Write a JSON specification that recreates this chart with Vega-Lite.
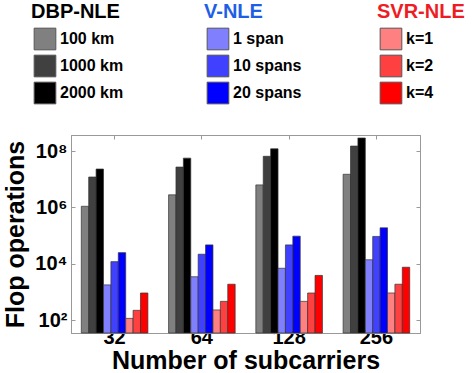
{
  "$schema": "https://vega.github.io/schema/vega-lite/v6.json",
  "padding": {"left": 3, "top": 0, "right": 0, "bottom": 0},
  "background": "white",
  "spacing": 28,
  "config": {
    "font": "Liberation Sans",
    "view": {"stroke": null}
  },
  "datasets": {
    "bars": [
      {"subcarriers": "32", "series": "100 km", "flops": 1100000},
      {"subcarriers": "32", "series": "1000 km", "flops": 12000000},
      {"subcarriers": "32", "series": "2000 km", "flops": 23000000},
      {"subcarriers": "32", "series": "1 span", "flops": 1800},
      {"subcarriers": "32", "series": "10 spans", "flops": 12000},
      {"subcarriers": "32", "series": "20 spans", "flops": 25000},
      {"subcarriers": "32", "series": "k=1", "flops": 117},
      {"subcarriers": "32", "series": "k=2", "flops": 226},
      {"subcarriers": "32", "series": "k=4", "flops": 930},
      {"subcarriers": "64", "series": "100 km", "flops": 2800000},
      {"subcarriers": "64", "series": "1000 km", "flops": 27000000},
      {"subcarriers": "64", "series": "2000 km", "flops": 56000000},
      {"subcarriers": "64", "series": "1 span", "flops": 3500},
      {"subcarriers": "64", "series": "10 spans", "flops": 22000},
      {"subcarriers": "64", "series": "20 spans", "flops": 47000},
      {"subcarriers": "64", "series": "k=1", "flops": 233},
      {"subcarriers": "64", "series": "k=2", "flops": 470},
      {"subcarriers": "64", "series": "k=4", "flops": 1900},
      {"subcarriers": "128", "series": "100 km", "flops": 6300000},
      {"subcarriers": "128", "series": "1000 km", "flops": 65000000},
      {"subcarriers": "128", "series": "2000 km", "flops": 120000000},
      {"subcarriers": "128", "series": "1 span", "flops": 7000},
      {"subcarriers": "128", "series": "10 spans", "flops": 47000},
      {"subcarriers": "128", "series": "20 spans", "flops": 96000},
      {"subcarriers": "128", "series": "k=1", "flops": 470},
      {"subcarriers": "128", "series": "k=2", "flops": 930},
      {"subcarriers": "128", "series": "k=4", "flops": 3900},
      {"subcarriers": "256", "series": "100 km", "flops": 15000000},
      {"subcarriers": "256", "series": "1000 km", "flops": 150000000},
      {"subcarriers": "256", "series": "2000 km", "flops": 290000000},
      {"subcarriers": "256", "series": "1 span", "flops": 14000},
      {"subcarriers": "256", "series": "10 spans", "flops": 94000},
      {"subcarriers": "256", "series": "20 spans", "flops": 190000},
      {"subcarriers": "256", "series": "k=1", "flops": 930},
      {"subcarriers": "256", "series": "k=2", "flops": 1900},
      {"subcarriers": "256", "series": "k=4", "flops": 7600}
    ],
    "legendItems": [
      {"series": "100 km", "col": 0, "row": 1},
      {"series": "1000 km", "col": 0, "row": 2},
      {"series": "2000 km", "col": 0, "row": 3},
      {"series": "1 span", "col": 1, "row": 1},
      {"series": "10 spans", "col": 1, "row": 2},
      {"series": "20 spans", "col": 1, "row": 3},
      {"series": "k=1", "col": 2, "row": 1},
      {"series": "k=2", "col": 2, "row": 2},
      {"series": "k=4", "col": 2, "row": 3}
    ],
    "legendTitles": [
      {"group": "DBP-NLE", "col": 0, "row": 0},
      {"group": "V-NLE", "col": 1, "row": 0},
      {"group": "SVR-NLE", "col": 2, "row": 0}
    ]
  },
  "vconcat": [
    {
      "width": 401,
      "height": 105,
      "view": {"stroke": null},
      "layer": [
        {
          "data": {"name": "legendTitles"},
          "mark": {"type": "text", "align": "left", "baseline": "middle", "fontSize": 20, "fontWeight": "bold", "dx": -2},
          "encoding": {
            "x": {"field": "col", "type": "quantitative", "scale": {"domain": [0.2197, 2.5377], "nice": false, "zero": false}, "axis": null},
            "y": {"field": "row", "type": "quantitative", "scale": {"domain": [-0.444, 3.444], "reverse": true, "nice": false, "zero": false}, "axis": null},
            "text": {"field": "group"},
            "fill": {"field": "group", "type": "nominal", "scale": {"domain": ["DBP-NLE", "V-NLE", "SVR-NLE"], "range": ["#000000", "#1f5fe6", "#ee1c24"]}, "legend": null}
          }
        },
        {
          "data": {"name": "legendItems"},
          "mark": {"type": "point", "shape": "square", "filled": true, "size": 470, "stroke": "#555555", "strokeWidth": 1, "opacity": 1, "xOffset": 12},
          "encoding": {
            "x": {"field": "col", "type": "quantitative", "scale": {"domain": [0.2197, 2.5377], "nice": false, "zero": false}, "axis": null},
            "y": {"field": "row", "type": "quantitative", "scale": {"domain": [-0.444, 3.444], "reverse": true, "nice": false, "zero": false}, "axis": null},
            "color": {"field": "series", "type": "nominal", "scale": {"domain": ["100 km", "1000 km", "2000 km", "1 span", "10 spans", "20 spans", "k=1", "k=2", "k=4"], "range": ["#808080", "#404040", "#000000", "#8080ff", "#4040ff", "#0000ff", "#ff8080", "#ff4040", "#ff0000"]}, "legend": null}
          }
        },
        {
          "data": {"name": "legendItems"},
          "mark": {"type": "text", "align": "left", "baseline": "middle", "fontSize": 16, "fontWeight": "bold", "dx": 27, "color": "#000000"},
          "encoding": {
            "x": {"field": "col", "type": "quantitative", "scale": {"domain": [0.2197, 2.5377], "nice": false, "zero": false}, "axis": null},
            "y": {"field": "row", "type": "quantitative", "scale": {"domain": [-0.444, 3.444], "reverse": true, "nice": false, "zero": false}, "axis": null},
            "text": {"field": "series"}
          }
        }
      ]
    },
    {
      "width": 349,
      "height": 198,
      "view": {"stroke": "#999999", "strokeWidth": 1},
      "data": {"name": "bars"},
      "layer": [
        {
          "mark": {"type": "bar", "stroke": "#333333", "strokeWidth": 0.7},
          "encoding": {
            "x": {
              "field": "subcarriers", "type": "nominal", "sort": ["32", "64", "128", "256"],
              "scale": {"paddingInner": 0.237, "paddingOuter": 0.118},
              "axis": {"orient": "bottom", "title": "Number of subcarriers", "titleFontSize": 25, "titleFontWeight": "bold", "titleColor": "#000000", "titlePadding": 1,
                       "labelAngle": 0, "labelFontSize": 20, "labelFontWeight": "bold", "labelColor": "#000000", "labelPadding": -6,
                       "ticks": false, "domainColor": "#999999"}
            },
            "xOffset": {"field": "series", "type": "nominal", "sort": ["100 km", "1000 km", "2000 km", "1 span", "10 spans", "20 spans", "k=1", "k=2", "k=4"], "scale": {"paddingInner": 0, "paddingOuter": 0}},
            "y": {
              "field": "flops", "type": "quantitative",
              "scale": {"type": "log", "domain": [35.5, 370000000], "nice": false},
              "axis": {"orient": "left", "title": "Flop operations", "titleFontSize": 25, "titleFontWeight": "bold", "titleColor": "#000000", "titlePadding": 6,
                       "values": [100, 10000, 1000000, 100000000],
                       "labelExpr": "datum.value == 100 ? '10²' : datum.value == 10000 ? '10⁴' : datum.value == 1000000 ? '10⁶' : '10⁸'",
                       "labelFontSize": 20, "labelFontWeight": "bold", "labelColor": "#000000", "labelPadding": 8,
                       "tickSize": -4, "tickColor": "#999999", "domainColor": "#999999", "grid": false}
            },
            "y2": {"datum": 35.5},
            "color": {"field": "series", "type": "nominal", "scale": {"domain": ["100 km", "1000 km", "2000 km", "1 span", "10 spans", "20 spans", "k=1", "k=2", "k=4"], "range": ["#808080", "#404040", "#000000", "#8080ff", "#4040ff", "#0000ff", "#ff8080", "#ff4040", "#ff0000"]}, "legend": null}
          }
        },
        {
          "mark": {"type": "bar", "opacity": 0},
          "encoding": {
            "x": {
              "field": "subcarriers", "type": "nominal", "sort": ["32", "64", "128", "256"],
              "axis": {"orient": "top", "title": null, "labels": false, "tickSize": -4, "tickColor": "#999999", "domainColor": "#999999"}
            },
            "xOffset": {"field": "series", "type": "nominal", "sort": ["100 km", "1000 km", "2000 km", "1 span", "10 spans", "20 spans", "k=1", "k=2", "k=4"]},
            "y": {
              "field": "flops", "type": "quantitative",
              "axis": {"orient": "right", "title": null, "labels": false, "values": [100, 10000, 1000000, 100000000], "tickSize": -4, "tickColor": "#999999", "domainColor": "#999999", "grid": false}
            },
            "y2": {"datum": 35.5}
          }
        }
      ],
      "resolve": {"axis": {"x": "independent", "y": "independent"}}
    }
  ]
}
